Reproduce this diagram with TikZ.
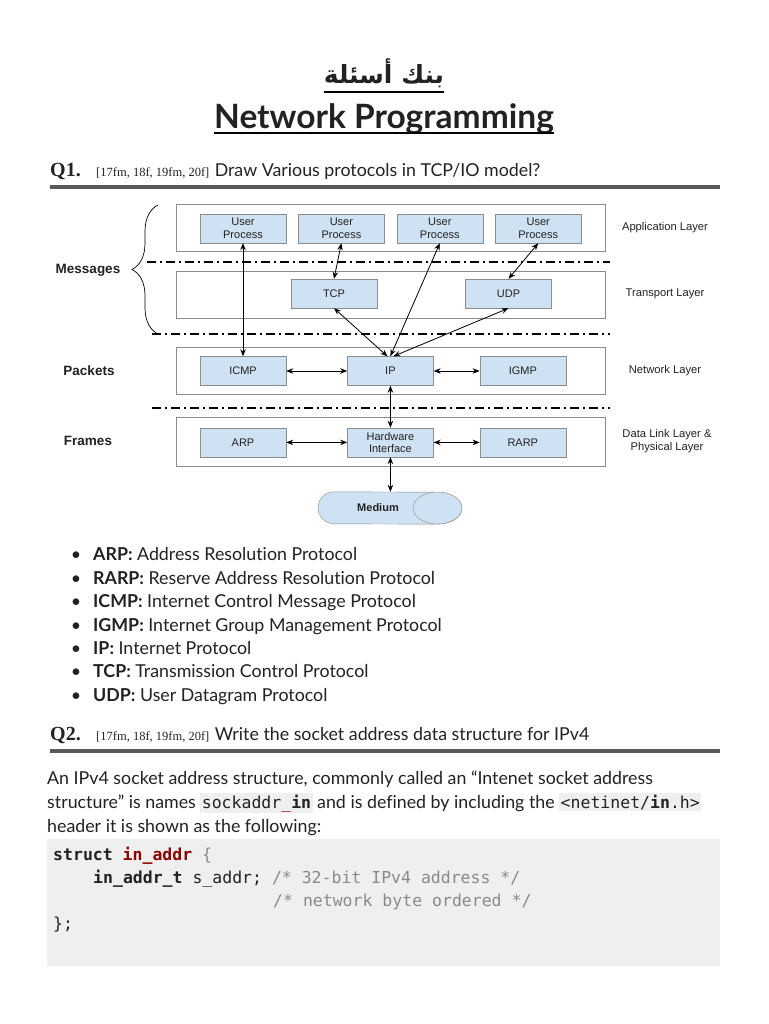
\documentclass[tikz,border=0pt]{standalone}
\usepackage{fontspec}
\setmainfont{Lato}[Ligatures=NoCommon]
\setsansfont{Liberation Sans}
\setmonofont{DejaVu Sans Mono}
\newfontfamily\arabicfont[Script=Arabic]{DejaVu Sans}
\newfontfamily\tagfont{Liberation Serif}
\TeXXeTstate=1
\usetikzlibrary{positioning,arrows.meta,decorations.pathreplacing}
\pgfdeclarelayer{bg}
\pgfsetlayers{bg,main}
\definecolor{procblue}{HTML}{CFE2F3}
\definecolor{frameline}{HTML}{8C8C8C}
\definecolor{codebg}{HTML}{EFEFEF}
\definecolor{codered}{HTML}{8B0000}
\definecolor{codegray}{HTML}{8A8A8A}
\definecolor{rulegray}{HTML}{5A5A5A}
\definecolor{ink}{HTML}{222222}

\newcommand{\bodysize}{\fontsize{17.8}{21}\selectfont}
\newcommand{\codesize}{\fontsize{16.5}{19}\selectfont}
\newcommand{\inlinecode}[1]{{\setlength{\fboxsep}{1.5pt}\colorbox{codebg}{\ttfamily\codesize #1}}}

\begin{document}
\begin{tikzpicture}[x=1pt, y=-1pt, font=\bodysize, text=ink,
  layerbox/.style={rectangle, draw=frameline, minimum width=429pt, minimum height=47pt, inner sep=0pt},
  proto/.style={rectangle, draw=frameline, fill=procblue, minimum width=86pt, minimum height=29pt, inner sep=0pt, align=center, font=\sffamily\fontsize{11}{12.5}\selectfont},
  layername/.style={align=center, font=\sffamily\fontsize{11.2}{13}\selectfont},
  pdu/.style={font=\sffamily\bfseries\fontsize{13.5}{15}\selectfont},
  divider/.style={line width=1.6pt, dash pattern=on 9pt off 4pt on 2pt off 4pt},
  link/.style={{Stealth[length=7pt,width=5.5pt]}-{Stealth[length=7pt,width=5.5pt]}, line width=0.8pt},
  textline/.style={anchor=base west, inner sep=0pt},
  qrule/.style={rulegray, line width=3.5pt},
]
\useasboundingbox (0,0) rectangle (768,1024);
\begin{pgfonlayer}{bg}
\fill[white] (0,0) rectangle (768,1024);
\end{pgfonlayer}

%%% HEADER
\node[font=\arabicfont\bfseries\fontsize{25}{28}\selectfont, inner sep=0pt, anchor=base] (arabic) at (384,84) {\beginR بنك أسئلة\endR};
\draw[line width=1.8pt] ([yshift=-8pt]arabic.base west) -- ([yshift=-8pt]arabic.base east);
\node[font=\bfseries\fontsize{33.5}{38}\selectfont, inner sep=0pt, anchor=base] (title) at (384,129) {Network Programming};
\draw[line width=1.8pt] ([yshift=-4pt]title.base west) -- ([yshift=-4pt]title.base east);

%%% Q1
\node[textline, font=\tagfont\bfseries\fontsize{20}{22}\selectfont] (q1) at (50,177) {Q1.};
\node[textline, font=\tagfont\fontsize{12.5}{14}\selectfont] (q1tags) at (96,177) {[17fm, 18f, 19fm, 20f]};
\node[textline] (q1text) at ([xshift=5pt]q1tags.base east) {Draw Various protocols in TCP/IO model?};
\draw[qrule] (50,187) -- (720,187);

%%% layers
\node[layerbox] (app) at (390.5,227.5) {};
\node[layerbox] (transport) at (390.5,295) {};
\node[layerbox] (network) at (390.5,370.5) {};
\node[layerbox, minimum height=49pt] (datalink) at (390.5,441.5) {};

%%% APPLICATION
\node[proto] (up1) at (243,228.5) {User\\Process};
\node[proto, right=12pt of up1] (up2) {User\\Process};
\node[proto, right=12pt of up2] (up3) {User\\Process};
\node[proto, right=12pt of up3] (up4) {User\\Process};

%%% TRANSPORT
\node[proto] (tcp) at (334,293.5) {TCP};
\node[proto] (udp) at (508.5,293.5) {UDP};

%%% NETWORK
\node[proto] (icmp) at (243,371) {ICMP};
\node[proto, right=61pt of icmp] (ip) {IP};
\node[proto, right=46pt of ip] (igmp) {IGMP};

%%% DATA LINK
\node[proto, below=42pt of icmp] (arp) {ARP};
\node[proto, below=42pt of ip] (hw) {Hardware\\Interface};
\node[proto, below=42pt of igmp] (rarp) {RARP};

%%% MEDIUM
\node[minimum height=32pt, inner sep=0pt, font=\sffamily\bfseries\fontsize{11}{12.5}\selectfont] (medium) at (378,508) {Medium};
\begin{pgfonlayer}{bg}
\draw[draw=frameline, fill=procblue] ([xshift=-44pt]medium.north) arc[start angle=90, end angle=270, radius=16pt]
  -- ([xshift=59.5pt]medium.south) arc[start angle=-90, end angle=90, x radius=24.5pt, y radius=16pt] -- cycle;
\draw[draw=frameline, fill=procblue] ([xshift=59.5pt]medium.center) ellipse [x radius=24.5pt, y radius=16pt];
\end{pgfonlayer}

%%% dividers and brace
\draw[divider] (147,262) -- (610,262);
\draw[divider] (152,334) -- (610,334);
\draw[divider] (152,408) -- (610,408);
\draw[decorate, decoration={brace, amplitude=26pt}, line width=0.7pt] (158,334) -- (158,205);

%%% side labels
\node[pdu] (messages) at (88,270) {Messages};
\node[pdu] (packets) at (89,370.5) {Packets};
\node[pdu] (frames) at (88,441) {Frames};
\node[layername] (applabel) at (665,228) {Application Layer};
\node[layername] (translabel) at (665,293.5) {Transport Layer};
\node[layername] (netlabel) at (665,371) {Network Layer};
\node[layername] (dllabel) at (667,441.5) {Data Link Layer \&\\Physical Layer};

%%% connections, arrows
\draw[link] (up1.south) -- (icmp.north);
\draw[link] (up2.south) -- (tcp.north);
\draw[link] (up3.south) -- (ip.north);
\draw[link] (up4.south) -- (udp.north);
\draw[link] (tcp.south) -- ([xshift=-3pt]ip.north);
\draw[link] (udp.south) -- ([xshift=3pt]ip.north);
\draw[link] (icmp) -- (ip);
\draw[link] (ip) -- (igmp);
\draw[link] (ip) -- (hw);
\draw[link] (arp) -- (hw);
\draw[link] (hw) -- (rarp);
\draw[link] (hw.south) -- (hw.south |- medium.north);

%%% LIST
\node[textline] (item-arp) at (93,560) {\llap{\textbullet\hspace{12pt}}\textbf{ARP:} Address Resolution Protocol};
\node[textline] (item-rarp) at (93,584) {\llap{\textbullet\hspace{12pt}}\textbf{RARP:} Reserve Address Resolution Protocol};
\node[textline] (item-icmp) at (93,607) {\llap{\textbullet\hspace{12pt}}\textbf{ICMP:} Internet Control Message Protocol};
\node[textline] (item-igmp) at (93,631) {\llap{\textbullet\hspace{12pt}}\textbf{IGMP:} Internet Group Management Protocol};
\node[textline] (item-ip) at (93,654) {\llap{\textbullet\hspace{12pt}}\textbf{IP:} Internet Protocol};
\node[textline] (item-tcp) at (93,677) {\llap{\textbullet\hspace{12pt}}\textbf{TCP:} Transmission Control Protocol};
\node[textline] (item-udp) at (93,701) {\llap{\textbullet\hspace{12pt}}\textbf{UDP:} User Datagram Protocol};

%%% Q2
\node[textline, font=\tagfont\bfseries\fontsize{20}{22}\selectfont] (q2) at (50,740) {Q2.};
\node[textline, font=\tagfont\fontsize{12.5}{14}\selectfont] (q2tags) at (96,740) {[17fm, 18f, 19fm, 20f]};
\node[textline] (q2text) at ([xshift=5pt]q2tags.base east) {Write the socket address data structure for IPv4};
\draw[qrule] (50,751) -- (720,751);

%%% ANSWER
\node[textline] (para1) at (47,784) {An IPv4 socket address structure, commonly called an “Intenet socket address};
\node[textline] (para2) at (47,808) {structure” is names \inlinecode{sockaddr{\color{codered}\_}\textbf{in}} and is defined by including the \inlinecode{<netinet/\textbf{in}.h>}};
\node[textline] (para3) at (47,832) {header it is shown as the following:};

%%% CODE
\node[fill=codebg, minimum width=673pt, minimum height=127pt, inner sep=0pt, anchor=north west] (codeblock) at (47,839) {};
\node[textline, font=\ttfamily\codesize] (code1) at (53,860) {\textbf{struct} \textcolor{codered}{\textbf{in\_addr}} \textcolor{codegray}{\{}};
\node[textline, font=\ttfamily\codesize] (code2) at (93,883) {\textbf{in\_addr\_t} s\_addr; \textcolor{codegray}{/* 32-bit IPv4 address */}};
\node[textline, font=\ttfamily\codesize] (code3) at (273,906) {\textcolor{codegray}{/* network byte ordered */}};
\node[textline, font=\ttfamily\codesize] (code4) at (53,929) {\};};

\end{tikzpicture}
\end{document}
